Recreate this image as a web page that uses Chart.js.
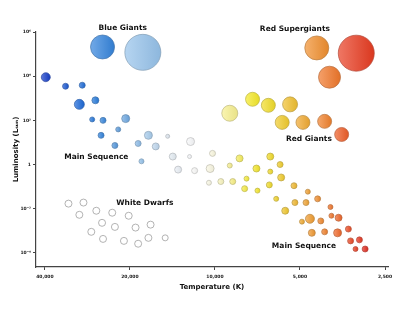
<!DOCTYPE html>
<html>
<head>
<meta charset="utf-8">
<script src="https://cdn.jsdelivr.net/npm/chart.js@4.4.0/dist/chart.umd.min.js"></script>
<style>
  html, body { margin: 0; padding: 0; background: #fff; }
  canvas { display: block; }
</style>
</head>
<body>
<canvas id="hr" width="404" height="325"></canvas>
<script>
// temperatures in K, luminosities in L_sun, bubble radius
const MS_TEMP = [39700, 33800, 29500, 30200, 26500, 27200, 24900, 20700, 22000, 25300,
  22600, 18700, 17200, 16200, 18200, 14700, 14100, 12200, 12300, 13500,
  11800, 10400, 10200, 10500, 9530, 8860, 8180, 8650, 7730, 7850,
  7070, 7130, 6370, 5880, 6370, 5830, 6420, 6070, 5640, 5250,
  5210, 4690, 4760, 4330, 3900, 3870, 3650, 4610, 4220, 4920,
  4540, 4090, 3680, 3370, 3310, 3080, 3180, 2940];
const MS_LUM = [9000, 3500, 3900, 530, 810, 110, 100, 120, 39, 21,
  7.3, 9.0, 21, 6.6, 1.4, 19, 2.3, 11, 2.3, 0.59,
  0.53, 0.66, 3.2, 0.15, 0.17, 0.9, 1.9, 0.17, 0.23, 0.081,
  0.066, 0.66, 2.3, 1.0, 0.48, 0.26, 0.12, 0.028, 0.0081, 0.11,
  0.019, 0.059, 0.019, 0.028, 0.012, 0.0048, 0.0039, 0.0035, 0.0028, 0.0026,
  0.00081, 0.0009, 0.00081, 0.0012, 0.00035, 0.00039, 0.00015, 0.00015];
const MS_SIZE = [4.5, 3, 3, 5, 3.5, 2.5, 3, 4, 2.5, 3,
  3, 3, 4, 3.5, 2.5, 2, 3.5, 4, 2, 3.5,
  3, 4, 3, 2.5, 3, 2.5, 3.5, 3, 2.5, 3,
  2.5, 3.5, 3.5, 3, 2.5, 3.5, 3, 2.5, 3.5, 3,
  3, 2.5, 3, 3, 2.5, 2.5, 3.5, 4.5, 3, 2.5,
  3.5, 3, 4, 3, 3, 3, 2.5, 3];

const GIANT_TEMP = [25000, 18000, 8860, 7360, 6470, 5420, 5780, 4880, 4090, 3560];
const GIANT_LUM = [2.1e5, 1.2e5, 210, 900, 480, 530, 81, 81, 90, 23];
const GIANT_SIZE = [12, 18, 8, 7, 7, 7.5, 7, 7, 7, 7];

const SUPER_TEMP = [4360, 3160, 3930];
const SUPER_LUM = [1.9e5, 1.1e5, 9000];
const SUPER_SIZE = [12, 18, 11];

const WD_TEMP = [33000, 29200, 30200, 26300, 23100, 25100, 22600, 20200, 27400, 24900,
  21000, 19100, 18700, 16900, 17200, 15000];
const WD_LUM = [0.017, 0.019, 0.0053, 0.0081, 0.0066, 0.0023, 0.0015, 0.0048, 0.0009, 0.00043,
  0.00035, 0.0014, 0.00026, 0.0019, 0.00048, 0.00048];
const WD_SIZE = [3.5, 3.5, 3.5, 3.5, 3.5, 3.5, 3.5, 3.5, 3.5, 3.5,
  3.5, 3.5, 3.5, 3.5, 3.5, 3];

const X_TICKS = [40000, 20000, 10000, 5000, 2500];
const X_TICK_LABELS = ['40,000', '20,000', '10,000', '5,000', '2,500'];
const Y_TICKS = [1e-4, 1e-2, 1, 1e2, 1e4, 1e6];
const Y_TICK_LABELS = ['10⁻⁴', '10⁻²', '1', '10²', '10⁴', '10⁶'];

const LABEL_TEXT = ['Blue Giants', 'Red Supergiants', 'Red Giants', 'Main Sequence', 'White Dwarfs', 'Main Sequence'];
const LABEL_TEMP = [21200, 5210, 4650, 26300, 17700, 4840];
const LABEL_LUM = [1.5e6, 1.4e6, 15, 2.3, 0.019, 0.00021];

// colour of a star by temperature
const COLOR_STOPS = [
  [2900, [225, 40, 30]],
  [3300, [235, 70, 35]],
  [3700, [240, 105, 40]],
  [4200, [240, 135, 45]],
  [4800, [240, 165, 50]],
  [5500, [240, 195, 45]],
  [6500, [242, 222, 40]],
  [7500, [245, 235, 40]],
  [8800, [248, 240, 140]],
  [10000, [250, 248, 220]],
  [12000, [250, 250, 252]],
  [15000, [220, 230, 240]],
  [18000, [150, 195, 235]],
  [22000, [90, 155, 220]],
  [26000, [40, 125, 220]],
  [31000, [25, 100, 215]],
  [40000, [20, 60, 200]],
];

const mix = (a, b, t) => a.map((v, k) => Math.round(v + (b[k] - v) * t));
const rgb = (c) => `rgb(${c[0]},${c[1]},${c[2]})`;

function tempColor(T) {
  const lt = Math.log(T);
  for (let i = 0; i < COLOR_STOPS.length - 1; i++) {
    const [t0, c0] = COLOR_STOPS[i];
    const [t1, c1] = COLOR_STOPS[i + 1];
    if (T <= t1 || i === COLOR_STOPS.length - 2) {
      const f = Math.min(1, Math.max(0, (lt - Math.log(t0)) / (Math.log(t1) - Math.log(t0))));
      return mix(c0, c1, f);
    }
  }
}

function starFill(c) {
  const raw = c.raw;
  if (!raw) return '#ccc';
  const base = tempColor(raw.x);
  const chart = c.chart;
  if (!chart.scales.x || !chart.chartArea) return rgb(base);
  const px = chart.scales.x.getPixelForValue(raw.x);
  const g = chart.ctx.createLinearGradient(px - raw.r, 0, px + raw.r, 0);
  g.addColorStop(0, rgb(mix(base, [255, 255, 255], 0.3)));
  g.addColorStop(1, rgb(mix(base, [0, 0, 0], 0.06)));
  return g;
}

const starBorder = (c) => (c.raw ? rgb(mix(tempColor(c.raw.x), [100, 100, 100], 0.4)) : '#999');

const toPoints = (temps, lums, sizes) => temps.map((t, i) => ({ x: t, y: lums[i], r: sizes[i] }));

const regionLabels = {
  id: 'regionLabels',
  afterDatasetsDraw(chart) {
    const { ctx, scales: { x, y } } = chart;
    ctx.save();
    ctx.font = 'bold 7.5px "DejaVu Sans"';
    ctx.fillStyle = '#111';
    ctx.textAlign = 'center';
    ctx.textBaseline = 'middle';
    LABEL_TEXT.forEach((t, i) => {
      ctx.fillText(t, x.getPixelForValue(LABEL_TEMP[i]), y.getPixelForValue(LABEL_LUM[i]));
    });
    ctx.restore();
  },
};

const tickFont = { family: '"DejaVu Sans"', size: 4.5, weight: 'bold' };
const titleFont = { family: '"DejaVu Sans"', size: 7, weight: 'bold' };

new Chart(document.getElementById('hr'), {
  type: 'bubble',
  data: {
    datasets: [
      {
        label: 'White Dwarfs',
        data: toPoints(WD_TEMP, WD_LUM, WD_SIZE),
        backgroundColor: '#ffffff',
        borderColor: '#a0a0a0',
        borderWidth: 0.8,
      },
      {
        label: 'Main Sequence',
        data: toPoints(MS_TEMP, MS_LUM, MS_SIZE),
        backgroundColor: starFill,
        borderColor: starBorder,
        borderWidth: 0.7,
      },
      {
        label: 'Giants',
        data: toPoints(GIANT_TEMP, GIANT_LUM, GIANT_SIZE),
        backgroundColor: starFill,
        borderColor: starBorder,
        borderWidth: 0.7,
      },
      {
        label: 'Red Supergiants',
        data: toPoints(SUPER_TEMP, SUPER_LUM, SUPER_SIZE),
        backgroundColor: starFill,
        borderColor: starBorder,
        borderWidth: 0.7,
      },
    ],
  },
  options: {
    responsive: false,
    animation: false,
    events: [],
    layout: { autoPadding: false, padding: { top: 32, right: 16, bottom: 28, left: 0 } },
    plugins: {
      legend: { display: false },
      tooltip: { enabled: false },
    },
    scales: {
      x: {
        type: 'logarithmic',
        reverse: true,
        min: 2440,
        max: 43000,
        afterFit: (s) => { s.height = 30; },
        afterBuildTicks: (s) => { s.ticks = X_TICKS.map((v) => ({ value: v })); },
        ticks: {
          autoSkip: false,
          maxRotation: 0,
          padding: 4,
          color: '#222',
          font: tickFont,
          callback: (v) => X_TICK_LABELS[X_TICKS.indexOf(v)],
        },
        grid: { display: true, drawOnChartArea: false, tickLength: 3, color: '#444' },
        border: { display: true, color: '#444', width: 1.2 },
        title: {
          display: true,
          text: 'Temperature (K)',
          color: '#111',
          font: titleFont,
          padding: { top: 4, bottom: 6 },
        },
      },
      y: {
        type: 'logarithmic',
        min: 2.3e-5,
        max: 1e6,
        afterFit: (s) => { s.width = 36; },
        afterBuildTicks: (s) => { s.ticks = Y_TICKS.map((v) => ({ value: v })); },
        ticks: {
          autoSkip: false,
          padding: 2,
          color: '#222',
          font: tickFont,
          callback: (v) => Y_TICK_LABELS[Y_TICKS.indexOf(v)],
        },
        grid: { display: true, drawOnChartArea: false, tickLength: 3, color: '#444' },
        border: { display: true, color: '#444', width: 1.2 },
        title: {
          display: true,
          text: 'Luminosity (Lₛᵤₙ)',
          color: '#111',
          font: titleFont,
          padding: { top: 12, bottom: 0 },
        },
      },
    },
  },
  plugins: [regionLabels],
});
</script>
</body>
</html>
